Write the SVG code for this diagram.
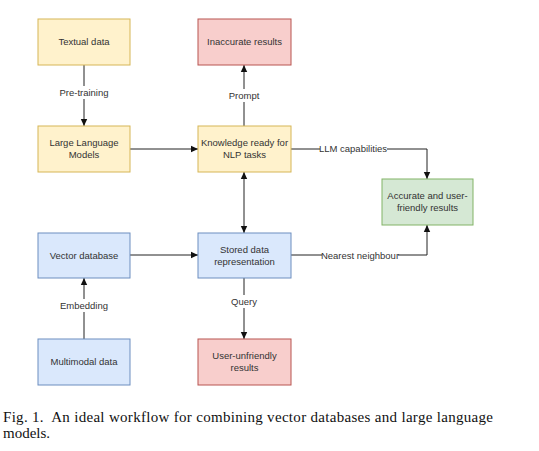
<svg xmlns="http://www.w3.org/2000/svg" width="539" height="451" viewBox="0 0 539 451">
<style>
.n rect{stroke-width:1}
.y rect{fill:#fff2cc;stroke:#d6b656}
.r rect{fill:#f8cecc;stroke:#b85450}
.g rect{fill:#d5e8d4;stroke:#82b366}
.b rect{fill:#dae8fc;stroke:#6c8ebf}
text{font-family:"Liberation Sans",Arial,sans-serif;font-size:9.5px;fill:#333;text-anchor:middle}
.e path{fill:none;stroke:#222;stroke-width:1}
.lbl{fill:#fff}
.cap{font-family:"Liberation Serif","Times New Roman",serif;font-size:15px;fill:#111;text-anchor:start}
</style>
<defs>
<marker id="ah" markerWidth="8" markerHeight="8" refX="7" refY="4" orient="auto" markerUnits="userSpaceOnUse">
<path d="M0,0.8 L7,4 L0,7.2 Z" fill="#111"/>
</marker>
<marker id="as" markerWidth="8" markerHeight="8" refX="1" refY="4" orient="auto" markerUnits="userSpaceOnUse">
<path d="M8,0.8 L1,4 L8,7.2 Z" fill="#111"/>
</marker>
</defs>
<rect width="539" height="451" fill="#fff"/>
<g class="e" id="connectors">
<path d="M84,65 V126" marker-end="url(#ah)"/>
<path d="M244,126 V65" marker-end="url(#ah)"/>
<path d="M130,149 H198" marker-end="url(#ah)"/>
<path d="M291,149 H427 V179" marker-end="url(#ah)"/>
<path d="M244,172 V233" marker-start="url(#as)" marker-end="url(#ah)"/>
<path d="M130,255 H198" marker-end="url(#ah)"/>
<path d="M291,255 H427 V225" marker-end="url(#ah)"/>
<path d="M84,339 V278" marker-end="url(#ah)"/>
<path d="M244,278 V339" marker-end="url(#ah)"/>
<rect class="lbl" x="58" y="86" width="52" height="13"/>
<text x="84" y="96">Pre-training</text>
<rect class="lbl" x="227" y="89" width="34" height="13"/>
<text x="244" y="99">Prompt</text>
<rect class="lbl" x="320" y="143" width="67" height="12"/>
<text x="353" y="152">LLM capabilities</text>
<rect class="lbl" x="322" y="249" width="76" height="12"/>
<text x="360" y="259">Nearest neighbour</text>
<rect class="lbl" x="60" y="299" width="48" height="13"/>
<text x="84" y="309">Embedding</text>
<rect class="lbl" x="230" y="295" width="28" height="13"/>
<text x="244" y="305">Query</text>
</g>
<g class="n y" id="textual"><rect x="38" y="19" width="92" height="46"/><text x="84" y="45">Textual data</text></g>
<g class="n r" id="inaccurate"><rect x="198" y="19" width="93" height="46"/><text x="244.5" y="45">Inaccurate results</text></g>
<g class="n y" id="llm"><rect x="38" y="126" width="92" height="46"/><text x="84" y="146">Large Language</text><text x="84" y="158">Models</text></g>
<g class="n y" id="knowledge"><rect x="198" y="126" width="93" height="46"/><text x="244.5" y="146">Knowledge ready for</text><text x="244.5" y="158">NLP tasks</text></g>
<g class="n g" id="accurate"><rect x="382" y="179" width="91" height="46"/><text x="427.5" y="199">Accurate and user-</text><text x="427.5" y="211">friendly results</text></g>
<g class="n b" id="vector"><rect x="38" y="233" width="92" height="45"/><text x="84" y="259">Vector database</text></g>
<g class="n b" id="stored"><rect x="198" y="233" width="93" height="45"/><text x="244.5" y="253">Stored data</text><text x="244.5" y="265">representation</text></g>
<g class="n b" id="multimodal"><rect x="38" y="339" width="92" height="46"/><text x="84" y="365">Multimodal data</text></g>
<g class="n r" id="userunfriendly"><rect x="198" y="339" width="93" height="46"/><text x="244.5" y="359">User-unfriendly</text><text x="244.5" y="371">results</text></g>
<text class="cap" x="3" y="422" xml:space="preserve" textLength="490" lengthAdjust="spacing">Fig. 1.  An ideal workflow for combining vector databases and large language</text>
<text class="cap" x="3" y="438">models.</text>
</svg>
